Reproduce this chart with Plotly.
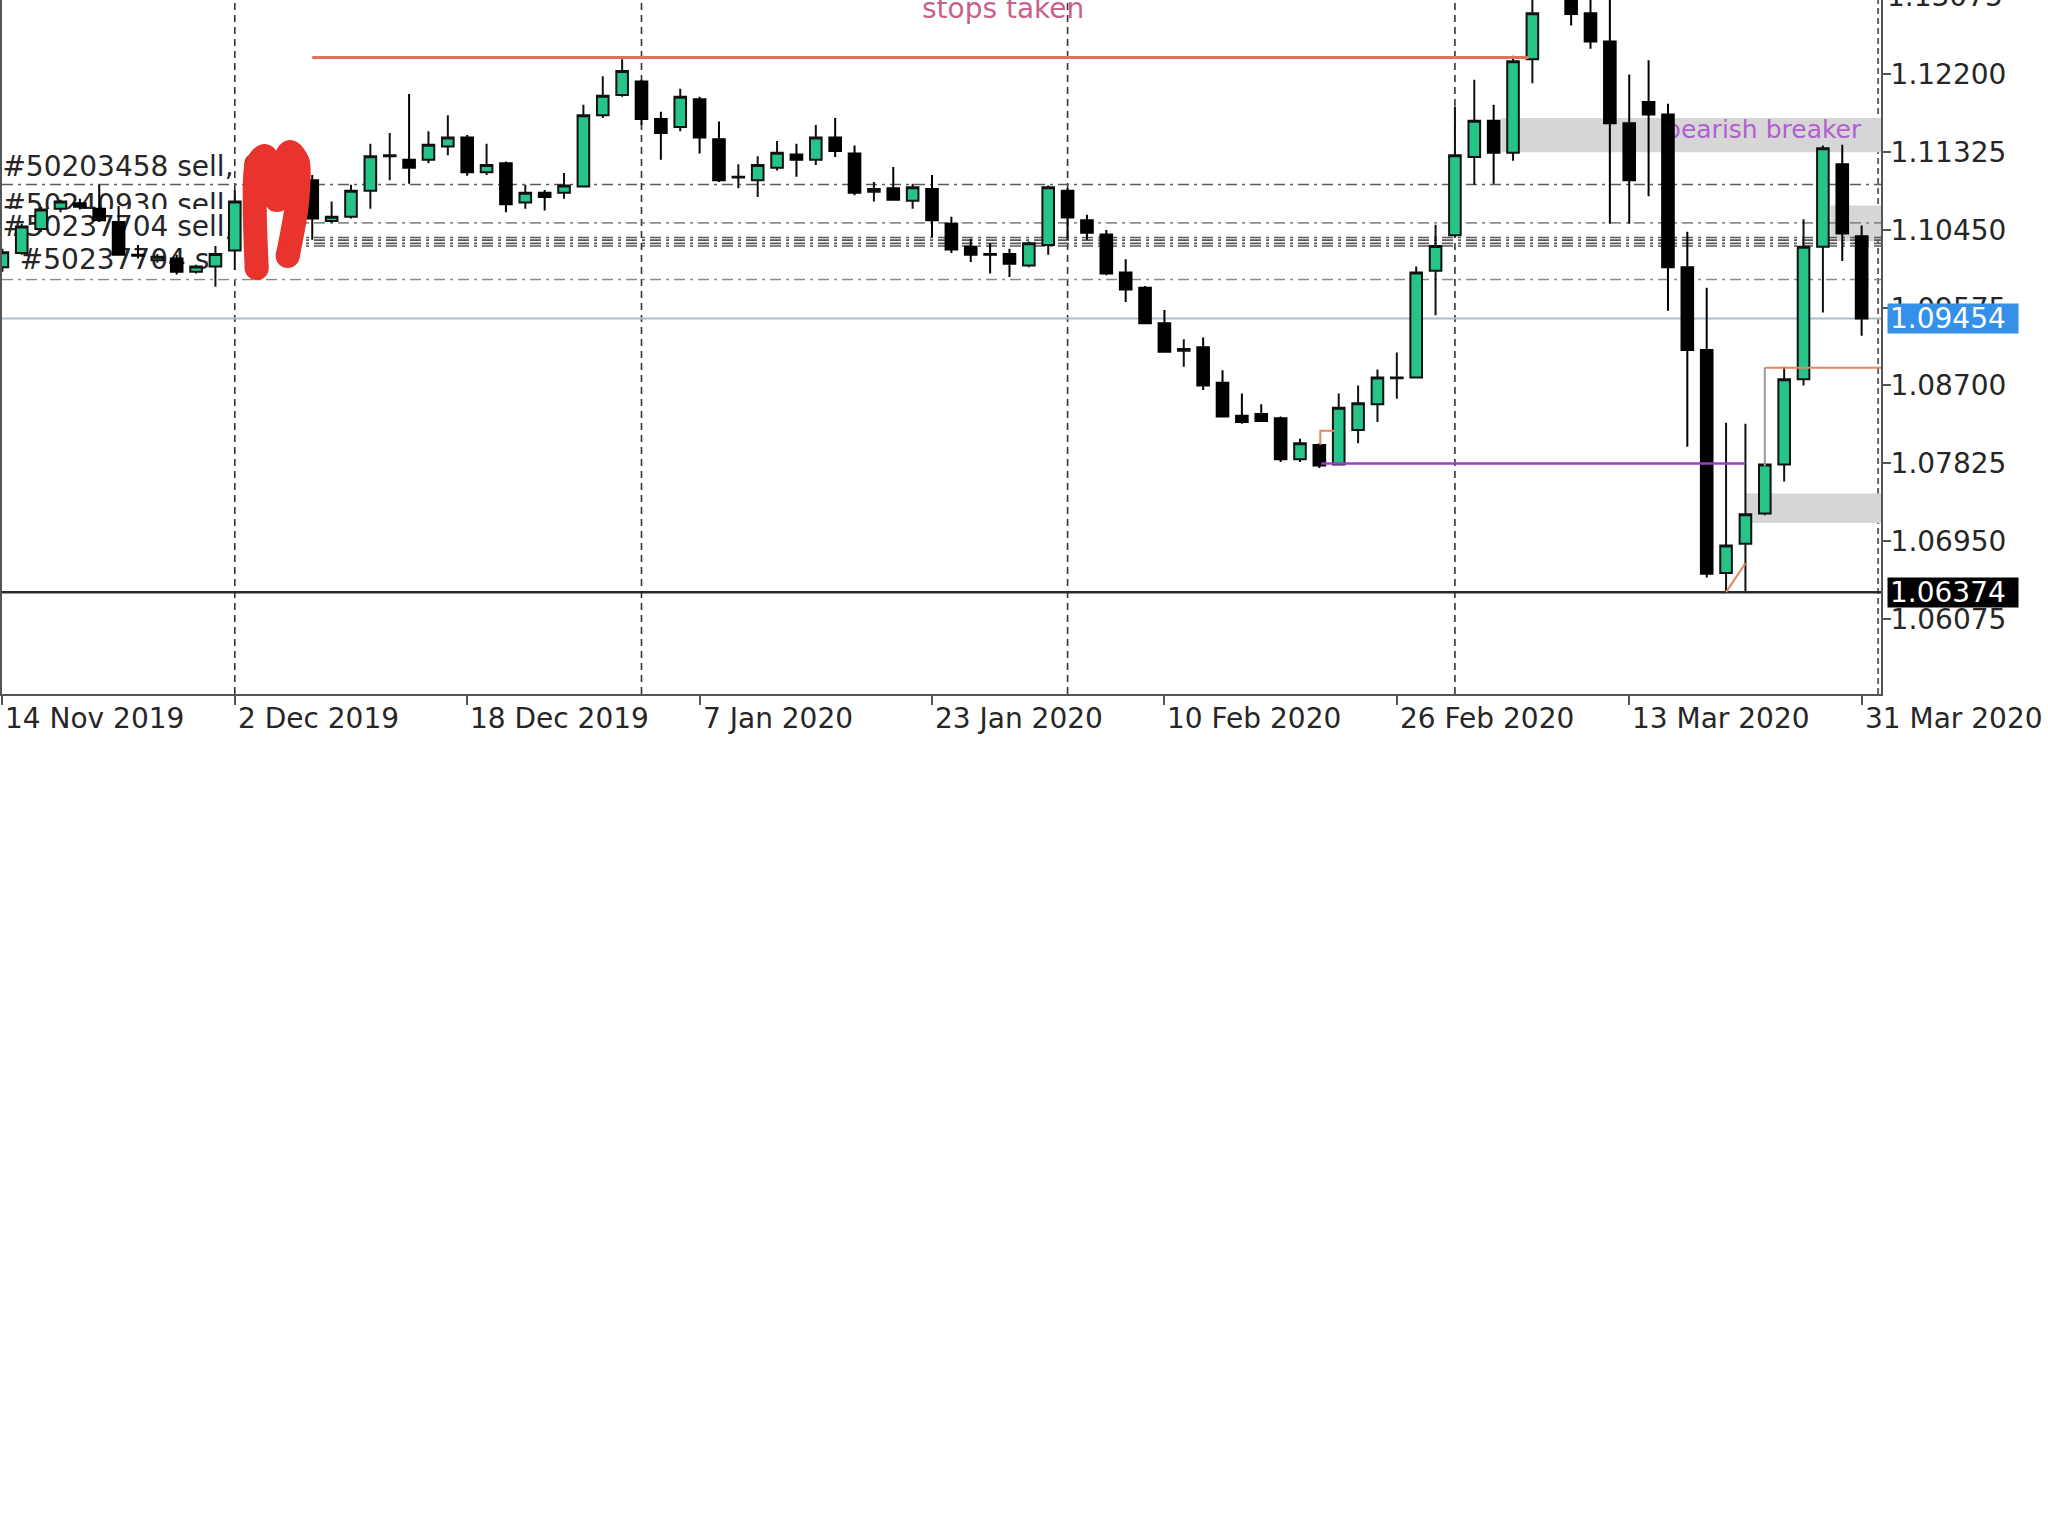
import plotly.graph_objects as go

# ---------------- data ----------------
tick_bars = [0, 12, 24, 36, 48, 60, 72, 84, 96]
tick_dates = ["14 Nov 2019", "2 Dec 2019", "18 Dec 2019", "7 Jan 2020", "23 Jan 2020",
              "10 Feb 2020", "26 Feb 2020", "13 Mar 2020", "31 Mar 2020"]
price_ticks = [1.06075, 1.06950, 1.07825, 1.08700, 1.09575, 1.10450, 1.11325, 1.12200]
top_tick = 1.13075

opens = [1.1003, 1.1019, 1.1046, 1.1069, 1.1075, 1.1069, 1.1054, 1.1017, 1.1011, 1.1013,
         1.0998, 1.1004, 1.1022, 1.1077, 1.1092, 1.1083, 1.1101, 1.1055, 1.1060, 1.1089,
         1.1128, 1.1124, 1.1124, 1.1139, 1.1149, 1.1110, 1.1120, 1.1076, 1.1087, 1.1087,
         1.1094, 1.1174, 1.1197, 1.1212, 1.1170, 1.1161, 1.1192, 1.1147, 1.1104, 1.1101,
         1.1115, 1.1130, 1.1124, 1.1149, 1.1131, 1.1088, 1.1092, 1.1078, 1.1091, 1.1052,
         1.1026, 1.1018, 1.1018, 1.1005, 1.1028, 1.1089, 1.1056, 1.1040, 1.0997, 1.0980,
         1.0940, 1.0909, 1.0913, 1.0873, 1.0836, 1.0838, 1.0833, 1.0787, 1.0803, 1.0781,
         1.0820, 1.0849, 1.0878, 1.0879, 1.0999, 1.1039, 1.1127, 1.1168, 1.1132, 1.1237,
         1.1330, 1.1420, 1.1289, 1.1257, 1.1165, 1.1189, 1.1175, 1.1003, 1.0910, 1.0659,
         1.0692, 1.0726, 1.0781, 1.0877, 1.1026, 1.1119, 1.1038]
highs = [1.1024, 1.1052, 1.1071, 1.1079, 1.1080, 1.1096, 1.1072, 1.1028, 1.1018, 1.1017,
         1.1006, 1.1027, 1.1090, 1.1100, 1.1098, 1.1105, 1.1107, 1.1077, 1.1096, 1.1142,
         1.1154, 1.1198, 1.1156, 1.1174, 1.1152, 1.1142, 1.1122, 1.1096, 1.1090, 1.1109,
         1.1186, 1.1218, 1.1237, 1.1214, 1.1178, 1.1204, 1.1195, 1.1167, 1.1119, 1.1128,
         1.1145, 1.1142, 1.1163, 1.1171, 1.1140, 1.1099, 1.1116, 1.1097, 1.1107, 1.1060,
         1.1035, 1.1030, 1.1024, 1.1032, 1.1095, 1.1092, 1.1062, 1.1045, 1.1012, 1.0982,
         1.0955, 1.0922, 1.0924, 1.0887, 1.0861, 1.0849, 1.0835, 1.0810, 1.0805, 1.0861,
         1.0870, 1.0888, 1.0907, 1.1004, 1.1051, 1.1184, 1.1214, 1.1186, 1.1241, 1.1320,
         1.1495, 1.1450, 1.1330, 1.1330, 1.1220, 1.1236, 1.1187, 1.1043, 1.0980, 1.0828,
         1.0827, 1.0783, 1.0891, 1.1057, 1.1140, 1.1141, 1.1050]
lows = [1.0998, 1.1017, 1.1043, 1.1065, 1.1068, 1.1054, 1.1016, 1.1013, 1.1008, 1.0995,
        1.0996, 1.0981, 1.1000, 1.1070, 1.1075, 1.1078, 1.1034, 1.1053, 1.1058, 1.1069,
        1.1101, 1.1097, 1.1120, 1.1129, 1.1106, 1.1107, 1.1065, 1.1069, 1.1067, 1.1080,
        1.1093, 1.1171, 1.1195, 1.1163, 1.1124, 1.1156, 1.1131, 1.1099, 1.1092, 1.1082,
        1.1112, 1.1105, 1.1118, 1.1127, 1.1084, 1.1077, 1.1078, 1.1069, 1.1037, 1.1019,
        1.1009, 1.0996, 1.0992, 1.1003, 1.1017, 1.1034, 1.1034, 1.0994, 1.0964, 1.0940,
        1.0907, 1.0891, 1.0865, 1.0835, 1.0827, 1.0829, 1.0784, 1.0784, 1.0777, 1.0780,
        1.0805, 1.0829, 1.0855, 1.0878, 1.0949, 1.1037, 1.1096, 1.1097, 1.1123, 1.1210,
        1.1310, 1.1275, 1.1249, 1.1052, 1.1052, 1.1083, 1.0954, 1.0801, 1.0654, 1.0637,
        1.0637, 1.0724, 1.0762, 1.0870, 1.0952, 1.1010, 1.0926]
closes = [1.1020, 1.1049, 1.1068, 1.1077, 1.1071, 1.1056, 1.1017, 1.1016, 1.1015, 1.0998,
          1.1004, 1.1018, 1.1077, 1.1092, 1.1083, 1.1100, 1.1058, 1.1060, 1.1089, 1.1128,
          1.1129, 1.1115, 1.1141, 1.1149, 1.1110, 1.1118, 1.1074, 1.1087, 1.1082, 1.1095,
          1.1174, 1.1196, 1.1224, 1.1170, 1.1154, 1.1195, 1.1149, 1.1101, 1.1105, 1.1118,
          1.1132, 1.1124, 1.1149, 1.1134, 1.1087, 1.1091, 1.1079, 1.1093, 1.1056, 1.1023,
          1.1017, 1.1017, 1.1007, 1.1030, 1.1093, 1.1059, 1.1042, 1.0996, 1.0978, 1.0940,
          1.0908, 1.0911, 1.0870, 1.0835, 1.0829, 1.0830, 1.0787, 1.0805, 1.0780, 1.0845,
          1.0850, 1.0879, 1.0879, 1.0997, 1.1027, 1.1129, 1.1168, 1.1132, 1.1235, 1.1289,
          1.1450, 1.1288, 1.1257, 1.1165, 1.1101, 1.1175, 1.1003, 1.0910, 1.0658, 1.0690,
          1.0725, 1.0781, 1.0877, 1.1026, 1.1137, 1.1041, 1.09454]
bars = list(range(len(opens)))

x_range = [-0.02, 97.0]
y_range = [1.05228, 1.13038]

month_separators = [12, 33, 55, 75]
levels_dark = [1.10962, 1.10366, 1.10336, 1.10299, 1.10269]
levels_light = [1.10530, 1.09893]
bid_price = 1.09454
low_price = 1.06374

stop_price, stop_from, stop_to = 1.12392, 16.0, 78.8
sweep_price, sweep_from, sweep_to = 1.07821, 68.1, 90.0
breaker_zone = (77.4, 1.11324, 1.11711)
lower_zone = (90.0, 1.07152, 1.07483)
small_zone = (94.4, 1.10324, 1.10724)
range_top_price, range_top_from, range_top_bottom = 1.08900, 91.0, 1.07790
diag_from = (89.0, 1.06374)
diag_to = (90.0, 1.06700)
hook_bar, hook_lo, hook_hi, hook_end = 68.05, 1.08030, 1.08190, 68.8

trade_labels = ["#50203458 sell, 0", "#50240930 sell", "#50237704 sell, 0", "#50237704 s"]
trade_label_prices = [1.11135, 1.10710, 1.10465, 1.10085]
trade_label_bars = [0.0, 0.0, 0.0, 0.9]
trade_label_bg_end = [None, 10.5, 15.6, 15.6]
trade_label_bg_half = [0.0, 0.0022, 0.0022, 0.0018]

scribble_x = [13.13, 13.03, 13.13, 13.55, 13.96, 14.17, 14.42, 14.84, 15.25, 15.20, 14.73]
scribble_y = [1.10020, 1.10730, 1.11180, 1.11282, 1.11067, 1.10786, 1.11124, 1.11327, 1.11214, 1.10730, 1.10158]

GREEN = "#26C488"
FONT = "DejaVu Sans"
TXT = "#262626"

fig = go.Figure()

# ---- subplot 1 (beneath candles): trade labels with white backgrounds ----
for txt, pr, bx, bg_end, h in zip(trade_labels, trade_label_prices, trade_label_bars,
                                  trade_label_bg_end, trade_label_bg_half):
    if bg_end is not None:
        fig.add_trace(go.Scatter(x=[-1, bg_end, bg_end, -1, -1], y=[pr - h, pr - h, pr + h, pr + h, pr - h],
                                 mode="lines", fill="toself", fillcolor="white", line=dict(width=0),
                                 hoverinfo="skip", showlegend=False))
    fig.add_trace(go.Scatter(x=[bx], y=[pr], mode="text", text=[txt], textposition="middle right",
                             textfont=dict(family=FONT, size=28, color=TXT),
                             hoverinfo="skip", showlegend=False))

fig.add_trace(go.Scatter(x=[85.85], y=[1.11550], mode="text", text=["bearish breaker"],
                         textposition="middle right", textfont=dict(family=FONT, size=25, color="#b260d0"),
                         hoverinfo="skip", showlegend=False))

# ---- candles on an overlaid subplot so they sit above the labels ----
fig.add_trace(go.Candlestick(
    x=bars, open=opens, high=highs, low=lows, close=closes,
    xaxis="x2", yaxis="y2",
    increasing=dict(fillcolor=GREEN, line=dict(color="#111111", width=2)),
    decreasing=dict(fillcolor="#000000", line=dict(color="#000000", width=2)),
    whiskerwidth=0, hoverinfo="skip", showlegend=False))

# red hand-drawn scribble (above candles)
fig.add_trace(go.Scatter(x=scribble_x, y=scribble_y, xaxis="x2", yaxis="y2", mode="lines",
                         line=dict(color="#e8342c", width=24, shape="spline", smoothing=0.8),
                         hoverinfo="skip", showlegend=False))
fig.add_trace(go.Scatter(x=[scribble_x[0], scribble_x[-1]], y=[scribble_y[0], scribble_y[-1]],
                         xaxis="x2", yaxis="y2", mode="markers",
                         marker=dict(color="#e8342c", size=24, line=dict(width=0)),
                         hoverinfo="skip", showlegend=False))

shapes = []
for s in month_separators:
    shapes.append(dict(type="line", xref="x", yref="paper", x0=s, x1=s, y0=0, y1=1,
                       line=dict(color="#333333", width=1.6, dash="7px,5px"), layer="below"))
shapes.append(dict(type="line", xref="x", yref="paper", x0=96.85, x1=96.85, y0=0, y1=1,
                   line=dict(color="#666666", width=2, dash="6px,4px"), layer="below"))
for x0, y0, y1 in [breaker_zone, lower_zone, small_zone]:
    shapes.append(dict(type="rect", xref="x", yref="y", x0=x0, x1=x_range[1], y0=y0, y1=y1,
                       fillcolor="#d6d6d6", line=dict(width=0), layer="below"))
for lv in levels_dark:
    shapes.append(dict(type="line", xref="x", yref="y", x0=x_range[0], x1=x_range[1], y0=lv, y1=lv,
                       line=dict(color="#5a5a5a", width=1.6, dash="11px,5px,3px,5px"), layer="below"))
for lv in levels_light:
    shapes.append(dict(type="line", xref="x", yref="y", x0=x_range[0], x1=x_range[1], y0=lv, y1=lv,
                       line=dict(color="#8a8a8a", width=1.6, dash="11px,5px,3px,5px"), layer="below"))
shapes.append(dict(type="line", xref="x", yref="y", x0=x_range[0], x1=x_range[1], y0=bid_price, y1=bid_price,
                   line=dict(color="#a9bfcc", width=2), layer="below"))
shapes.append(dict(type="line", xref="x", yref="y", x0=x_range[0], x1=x_range[1], y0=low_price, y1=low_price,
                   line=dict(color="#2a2a2a", width=2.5), layer="below"))
shapes.append(dict(type="line", xref="x", yref="y", x0=stop_from, x1=stop_to, y0=stop_price, y1=stop_price,
                   line=dict(color="#e0705c", width=3), layer="above"))
shapes.append(dict(type="line", xref="x", yref="y", x0=sweep_from, x1=sweep_to, y0=sweep_price, y1=sweep_price,
                   line=dict(color="#9b3fc4", width=2.5), layer="above"))
shapes.append(dict(type="line", xref="x", yref="y", x0=range_top_from, x1=x_range[1], y0=range_top_price,
                   y1=range_top_price, line=dict(color="#e38463", width=2), layer="above"))
shapes.append(dict(type="line", xref="x", yref="y", x0=range_top_from, x1=range_top_from, y0=range_top_bottom,
                   y1=range_top_price, line=dict(color="#9a9a9a", width=2), layer="above"))
shapes.append(dict(type="line", xref="x", yref="y", x0=diag_from[0], x1=diag_to[0], y0=diag_from[1],
                   y1=diag_to[1], line=dict(color="#e38463", width=2), layer="above"))
shapes.append(dict(type="path", xref="x", yref="y",
                   path=f"M {hook_bar},{hook_lo} L {hook_bar},{hook_hi} L {hook_end},{hook_hi}",
                   line=dict(color="#e38463", width=2), layer="above"))

annotations = []
for b, t in zip(tick_bars, tick_dates):
    annotations.append(dict(x=b, xref="x", y=0, yref="paper", xanchor="left", yanchor="top",
                            xshift=1, yshift=-6, text=t, showarrow=False,
                            font=dict(family=FONT, size=28, color=TXT)))
annotations.append(dict(x=47.4, xref="x", y=1.1294, yref="y", xanchor="left", yanchor="middle",
                        text="stops taken", showarrow=False, font=dict(family=FONT, size=28, color="#c8628c")))
annotations.append(dict(x=1, xref="paper", y=(top_tick - y_range[0]) / (y_range[1] - y_range[0]), yref="paper",
                        xanchor="left", yanchor="middle", xshift=4, text=f"{top_tick:.5f}", showarrow=False,
                        font=dict(family=FONT, size=28, color=TXT)))
for pr, bg in [(bid_price, "#3490e8"), (low_price, "#000000")]:
    annotations.append(dict(x=1, xref="paper", y=pr, yref="y", xanchor="left", yanchor="middle",
                            xshift=6, text=f"{pr:.5f}", showarrow=False, bgcolor=bg, borderpad=2,
                            width=126, height=25, align="left",
                            font=dict(family=FONT, size=28, color="white")))

fig.update_layout(
    width=2048, height=1536,
    margin=dict(l=2, r=167, t=0, b=842, pad=0, autoexpand=False),
    paper_bgcolor="white", plot_bgcolor="white",
    showlegend=False, hovermode=False,
    boxgap=0.4, boxgroupgap=0,
    xaxis=dict(range=x_range, showgrid=False, zeroline=False, showline=True, linecolor="#555555",
               linewidth=2, ticks="outside", tickvals=tick_bars, ticklen=9, tickwidth=2,
               tickcolor="#555555", showticklabels=False, rangeslider=dict(visible=False),
               fixedrange=True, automargin=False),
    xaxis2=dict(range=x_range, overlaying="x", visible=False, rangeslider=dict(visible=False), fixedrange=True),
    yaxis=dict(range=y_range, side="right", showgrid=False, zeroline=False, showline=True, mirror=True,
               linecolor="#555555", linewidth=2, ticks="outside", ticklen=8, tickwidth=2,
               tickcolor="#555555", tickvals=price_ticks, ticktext=[f"{v:.5f}" for v in price_ticks],
               tickfont=dict(family=FONT, size=28, color=TXT), ticklabelstandoff=-6,
               fixedrange=True, automargin=False),
    yaxis2=dict(range=y_range, overlaying="y", visible=False, fixedrange=True),
    shapes=shapes, annotations=annotations,
)

fig.write_html("out.html", config={"displayModeBar": False},
               post_script="document.body.style.margin='0';document.body.style.overflow='hidden';")
